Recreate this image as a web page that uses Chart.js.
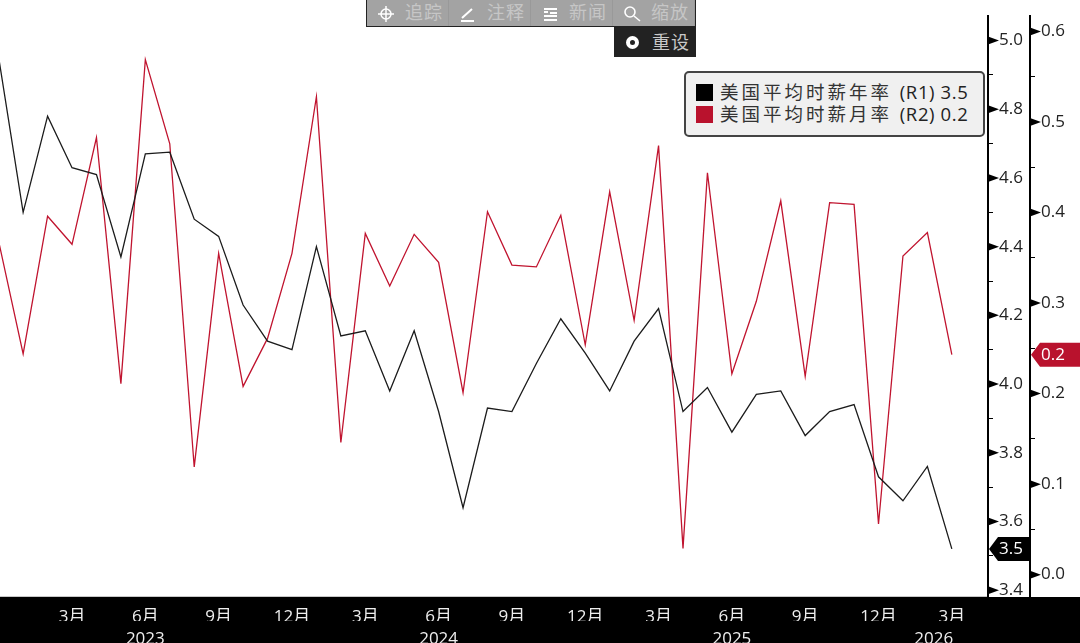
<!DOCTYPE html>
<html>
<head>
<meta charset="utf-8">
<script src="https://cdn.jsdelivr.net/npm/chart.js@4"></script>
<style>
  body { margin: 0; background: #fff; font-family: "Open Sans", "Noto Sans CJK SC", sans-serif; }
  #wrap { position: relative; width: 1080px; height: 643px; overflow: hidden; }
  #toolbar { position: absolute; left: 366px; top: 0; width: 328px; height: 26px; background: #a3a3a3; border: solid #222; border-width: 0 1px 1px 1px; display: flex; }
  #toolbar div { width: 82px; height: 26px; position: relative; color: #c6c6c6; font-size: 18px; line-height: 25px; letter-spacing: 1px; text-indent: 38px; box-sizing: border-box; border-right: 1px solid #999; }
  #toolbar svg { position: absolute; left: 9px; top: 4px; }
  #reset { position: absolute; left: 614px; top: 27px; width: 82px; height: 30px; background: #222; color: #c9c9c9; font-size: 18px; line-height: 30px; letter-spacing: 1px; text-indent: 38px; }
  #reset i { position: absolute; left: 12px; top: 9px; width: 5px; height: 5px; border: 4px solid #fff; border-radius: 50%; }
  #legend { position: absolute; left: 684px; top: 71px; width: 297px; height: 62px; background: #f0f0f0; border: 2px solid #444; border-radius: 5px; color: #333; font-size: 18.5px; }
  #legend div { position: absolute; left: 34px; white-space: nowrap; letter-spacing: 3px; line-height: 22px; }
  #legend span { letter-spacing: 0.6px; color: #222; }
  #legend b { position: absolute; left: 10px; width: 17px; height: 17px; }
</style>
</head>
<body>
<div id="wrap">
  <canvas id="chart" width="1080" height="643"></canvas>
  <div id="toolbar">
    <div><svg width="20" height="20" viewBox="0 0 20 20" fill="none" stroke="#fff" stroke-width="1.5"><circle cx="10" cy="10" r="5"/><path d="M10 2v16M2 10h16"/></svg>追踪</div>
    <div><svg width="20" height="20" viewBox="0 0 20 20" fill="none" stroke="#fff" stroke-width="2"><path d="M4 14L14 5M3 17h13"/></svg>注释</div>
    <div><svg width="20" height="20" viewBox="0 0 20 20" fill="none" stroke="#fff" stroke-width="2"><path d="M4 5h13M10 9h7M4 12h13M4 16h13M4 8h4"/></svg>新闻</div>
    <div><svg width="20" height="20" viewBox="0 0 20 20" fill="none" stroke="#fff" stroke-width="1.6"><circle cx="8" cy="8" r="5"/><path d="M12 12l6 5"/></svg>缩放</div>
  </div>
  <div id="reset"><i></i>重设</div>
  <div id="legend"></div>
</div>
<script>
const months = [
  "2022-12",
  "2023-01", "2023-02", "2023-03", "2023-04", "2023-05", "2023-06", "2023-07", "2023-08", "2023-09", "2023-10", "2023-11", "2023-12",
  "2024-01", "2024-02", "2024-03", "2024-04", "2024-05", "2024-06", "2024-07", "2024-08", "2024-09", "2024-10", "2024-11", "2024-12",
  "2025-01", "2025-02", "2025-03", "2025-04", "2025-05", "2025-06", "2025-07", "2025-08", "2025-09", "2025-10", "2025-11", "2025-12",
  "2026-01", "2026-02", "2026-03",
];
const yearlyRate = [
  4.95,
  4.50, 4.78, 4.63, 4.61, 4.37, 4.67, 4.675, 4.48, 4.43, 4.23, 4.125, 4.10,
  4.40, 4.14, 4.155, 3.98, 4.155, 3.92, 3.64, 3.93, 3.92, 4.06, 4.19, 4.09,
  3.98, 4.125, 4.22, 3.92, 3.99, 3.86, 3.97, 3.98, 3.85, 3.92, 3.94, 3.73,
  3.66, 3.76, 3.52,
];
const monthlyRate = [
  0.368,
  0.244, 0.396, 0.365, 0.483, 0.211, 0.569, 0.476, 0.119, 0.355, 0.208, 0.261, 0.355,
  0.528, 0.146, 0.377, 0.319, 0.376, 0.345, 0.201, 0.401, 0.342, 0.340, 0.397, 0.254,
  0.423, 0.281, 0.474, 0.029, 0.444, 0.222, 0.302, 0.413, 0.219, 0.411, 0.409, 0.056,
  0.352, 0.378, 0.243,
];
const yearLabels = ["2023", "2024", "2025", "2026"];
const seriesNames = ["美国平均时薪年率", "美国平均时薪月率"];
const seriesTags = ["(R1) 3.5", "(R2) 0.2"];

const BLACK = "#1c1c1c";
const RED = "#c0142f";
const FONT = '"Open Sans", "Noto Sans CJK SC", sans-serif';

// legend box
const legendEl = document.getElementById("legend");
[BLACK, RED].forEach((c, i) => {
  const top = 10 + i * 22;
  legendEl.innerHTML +=
    '<b style="top:' + (top + 1) + 'px;background:' + (i ? "#b9122d" : "#000") + '"></b>' +
    '<div style="top:' + (top - 2) + 'px">' + seriesNames[i] + ' <span>' + seriesTags[i] + '</span></div>';
});

// x position of each year label, in month index units
const yearPositions = [6, 18, 30, 38.26];

// black strip, axis arrows and the last value tags
const extras = {
  id: "extras",
  beforeDraw(chart) {
    const c = chart.ctx;
    const b = chart.chartArea.bottom;
    c.save();
    c.fillStyle = "#000";
    c.fillRect(0, b, chart.width, chart.height - b);
    c.fillStyle = "#c8c8c8";
    c.fillRect(0, b - 1, 988, 1);
    c.restore();
  },
  afterDraw(chart) {
    const c = chart.ctx;
    c.save();
    [chart.scales.y, chart.scales.y2].forEach((s) => {
      s.ticks.forEach((t) => {
        if (!t.label) return;
        const y = s.getPixelForValue(t.value);
        c.fillStyle = "#000";
        c.beginPath();
        c.moveTo(s.left, y - 4);
        c.lineTo(s.left + 11, y);
        c.lineTo(s.left, y + 4);
        c.fill();
      });
    });
    const tag = (s, v, txt, bg) => {
      const y = s.getPixelForValue(v);
      const x0 = s.left + 1, x1 = s.right;
      c.fillStyle = bg;
      c.beginPath();
      c.moveTo(x0, y);
      c.lineTo(x0 + 9, y - 12);
      c.lineTo(x1, y - 12);
      c.lineTo(x1, y + 12);
      c.lineTo(x0 + 9, y + 12);
      c.closePath();
      c.fill();
      c.fillStyle = "#fff";
      c.font = "17px " + FONT;
      c.textBaseline = "middle";
      c.fillText(txt, x0 + 10, y);
    };
    tag(chart.scales.y, yearlyRate[yearlyRate.length - 1], "3.5", "#000");
    tag(chart.scales.y2, monthlyRate[monthlyRate.length - 1], "0.2", "#b9122d");
    c.restore();
  },
};

const yAxis = (min, max, step, width, weight, isMajor, digits) => ({
  type: "linear",
  position: "right",
  weight: weight,
  min: min,
  max: max,
  border: { color: "#000", width: 2 },
  grid: { drawOnChartArea: false, drawTicks: true, tickLength: 5, tickColor: "#000", tickWidth: 1 },
  ticks: {
    stepSize: step,
    includeBounds: false,
    autoSkip: false,
    padding: 6,
    color: "#222",
    font: { family: FONT, size: 17 },
    callback: (v) => (isMajor(v) ? v.toFixed(digits) : ""),
  },
  afterFit: (s) => { s.width = width; },
});

const xAxis = (weight, build, label, height, padding) => ({
  type: "linear",
  position: "bottom",
  weight: weight,
  min: 0.053,
  max: 40.48,
  border: { display: false },
  grid: { display: false },
  ticks: {
    autoSkip: false,
    maxRotation: 0,
    padding: padding,
    color: "#eee",
    font: { family: FONT, size: 17 },
    callback: label,
  },
  afterBuildTicks: (s) => { s.ticks = build().map((v) => ({ value: v })); },
  afterFit: (s) => { s.height = height; },
});

new Chart(document.getElementById("chart").getContext("2d"), {
  type: "line",
  data: {
    datasets: [
      {
        label: seriesNames[0],
        data: yearlyRate.map((v, i) => ({ x: i, y: v })),
        borderColor: BLACK,
        borderWidth: 1.3,
        pointRadius: 0,
        tension: 0,
        xAxisID: "x",
        yAxisID: "y",
      },
      {
        label: seriesNames[1],
        data: monthlyRate.map((v, i) => ({ x: i, y: v })),
        borderColor: RED,
        borderWidth: 1.3,
        pointRadius: 0,
        tension: 0,
        xAxisID: "x",
        yAxisID: "y2",
      },
    ],
  },
  options: {
    responsive: false,
    animation: false,
    devicePixelRatio: 1,
    layout: { padding: 0 },
    plugins: { legend: { display: false }, tooltip: { enabled: false } },
    scales: {
      x: xAxis(
        1,
        () => months.map((m, i) => (parseInt(m.slice(5), 10) % 3 === 0 ? i : -1)).filter((i) => i >= 1),
        (v) => parseInt(months[v].slice(5), 10) + "月",
        24,
        2
      ),
      xYear: xAxis(
        2,
        () => yearPositions,
        (v) => yearLabels[yearPositions.indexOf(v)],
        22,
        0
      ),
      y: yAxis(3.38, 5.071, 0.1, 42, 1, (v) => Math.round(v * 10) % 2 === 0, 1),
      y2: yAxis(-0.0247, 0.617, 0.05, 50, 2, (v) => Math.round(v * 20) % 2 === 0, 1),
    },
  },
  plugins: [extras],
});
</script>
</body>
</html>
